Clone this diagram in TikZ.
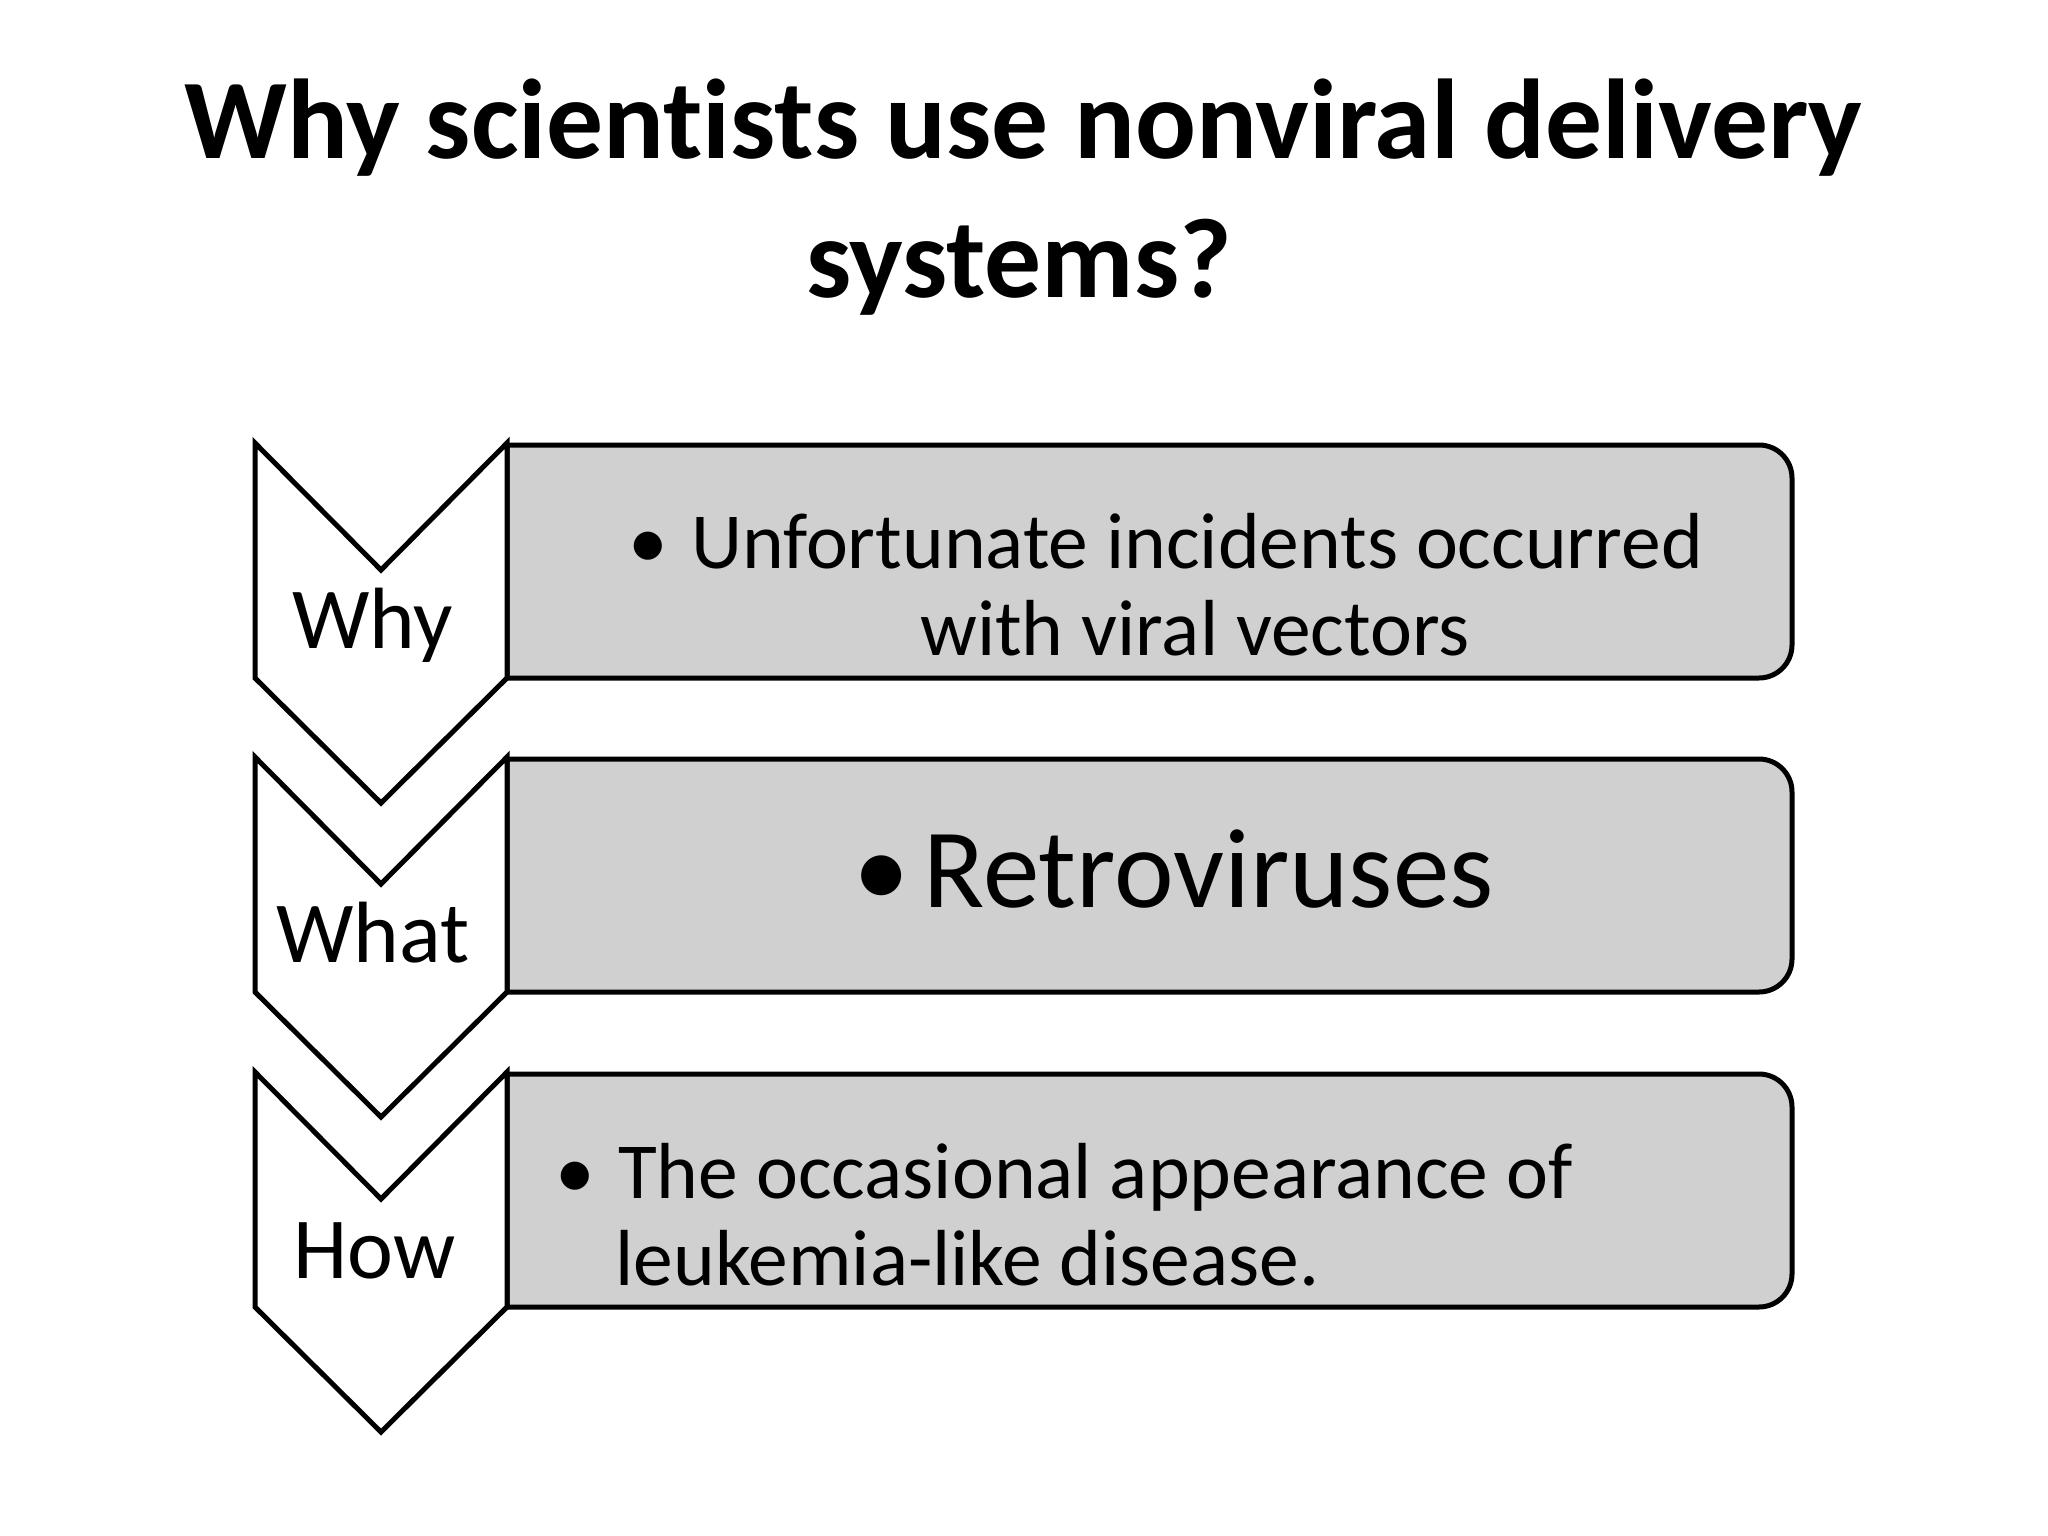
\documentclass[tikz,border=0pt]{standalone}
\usepackage{fontspec}
\setmainfont{Carlito}[RawFeature={-liga}]
\definecolor{boxgray}{RGB}{208,208,208}
\begin{document}
\begin{tikzpicture}[x=1pt,y=-1pt,
  shp/.style={line width=5pt, line join=miter},
  chev/.style={shp, draw=black, fill=white},
  card/.style={shp, draw=black, fill=boxgray},
  title/.style={font=\fontsize{113.5}{136}\selectfont\bfseries, inner sep=0pt, anchor=base},
  lab/.style={font=\fontsize{87}{104}\selectfont, inner sep=0pt, anchor=base},
  body/.style={font=\fontsize{79.5}{95}\selectfont, inner sep=0pt, anchor=base},
  big/.style={font=\fontsize{113}{136}\selectfont, inner sep=0pt, anchor=base}]
\useasboundingbox[fill=white] (0,0) rectangle (2048,1536);
% title
\node[title] (title1) at (1023.5,158) {Why scientists use nonviral delivery};
\node[title] (title2) at (1019,297) {systems?};
% boxes and chevrons
\foreach \T in {443,757,1072}{
  \draw[card] (507,\T+2) -- (1759,\T+2) .. controls (1777.2,\T+2) and (1792,\T+16.8) .. (1792,\T+35)
     -- (1792,\T+202) .. controls (1792,\T+220.2) and (1777.2,\T+235) .. (1759,\T+235)
     -- (507,\T+235) -- cycle;
  \draw[chev] (255,\T) -- (381,\T+127) -- (507,\T) -- (507,\T+235) -- (381,\T+360) -- (255,\T+235) -- cycle;
}
% chevron labels
\node[lab] (why) at (372.5,648) {Why};
\node[lab] (what) at (373,962) {What};
\node[lab] (how) at (374.5,1278) {How};
% box texts
\node[body] (b1) at (648,568) {•};
\node[body] (l1a) at (1197,568) {Unfortunate incidents occurred};
\node[body] (l1b) at (1195,655) {with viral vectors};
\node[big] (b2) at (882,907) {•};
\node[big] (l2) at (1208.5,907) {Retroviruses};
\node[body] (b3) at (575,1198) {•};
\node[body] (l3a) at (1095.5,1198) {The occasional appearance of};
\node[body] (l3b) at (967.5,1285) {leukemia-like disease.};
\end{tikzpicture}
\end{document}
